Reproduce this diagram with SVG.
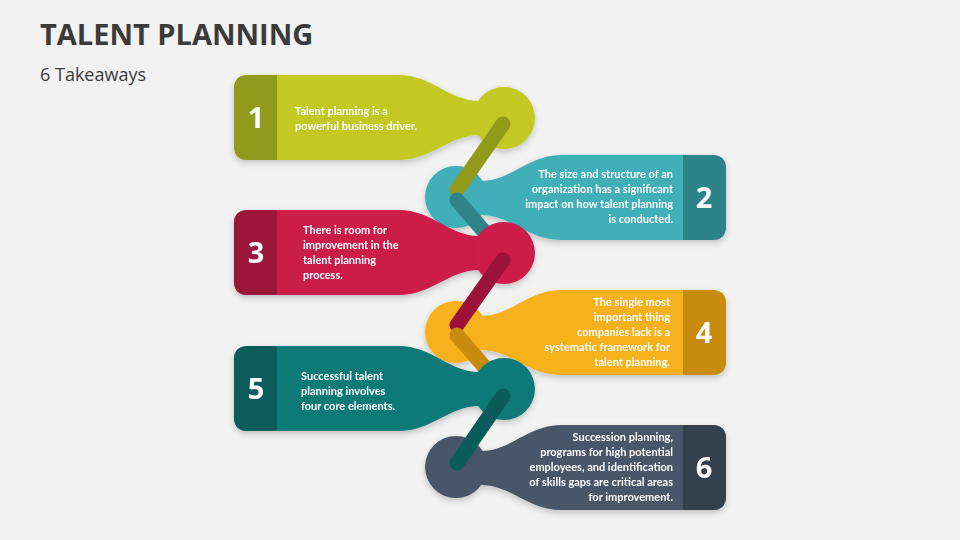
<svg xmlns="http://www.w3.org/2000/svg" width="960" height="540" viewBox="0 0 960 540">
<style>
.t{font-family:Lato,"Open Sans",sans-serif;font-weight:bold;font-size:11px;fill:#fff}
.r{text-anchor:end}
.n{font-family:"Open Sans","Liberation Sans",sans-serif;font-weight:bold;font-size:29px;fill:#fff;text-anchor:middle}
.rod{stroke-width:15;stroke-linecap:round;fill:none}
</style>
<defs>
<filter id="sh" x="-10%" y="-10%" width="120%" height="130%"><feDropShadow dx="0" dy="3" stdDeviation="3" flood-color="#000" flood-opacity="0.2"/></filter>
<path id="L" d="M248 0H398C433 0 448 26 480 26L480 60C448 60 433 85 398 85H248Q234 85 234 71V14Q234 0 248 0Z"/>
<path id="R" d="M712 0H562C527 0 512 26 480 26L480 60C512 60 527 85 562 85H712Q726 85 726 71V14Q726 0 712 0Z"/>
</defs>
<rect width="960" height="540" fill="#f2f2f2"/>
<text x="40" y="45" font-family="'Open Sans','Liberation Sans',sans-serif" font-weight="bold" font-size="29" fill="#3b3b3b">TALENT PLANNING</text>
<text x="40" y="81" font-family="'Open Sans','Liberation Sans',sans-serif" font-size="18" fill="#3b3b3b">6 Takeaways</text>

<g id="node2" filter="url(#sh)" transform="translate(0,155)">
<use href="#R" fill="#3fafb8"/><circle cx="456" cy="42" r="31" fill="#3fafb8"/>
<path d="M683 0H712Q726 0 726 14V71Q726 85 712 85H683Z" fill="#2f8389"/>
<text class="n" x="704" y="53">2</text>
<text class="t r" x="673" y="23">The size and structure of an</text>
<text class="t r" x="673" y="38">organization has a significant</text>
<text class="t r" x="673" y="53">impact on how talent planning</text>
<text class="t r" x="673" y="68">is conducted.</text>
</g>
<g id="node1" filter="url(#sh)" transform="translate(0,75)">
<use href="#L" fill="#c3c923"/><circle cx="504" cy="43" r="31" fill="#c3c923"/>
<path d="M277 0H248Q234 0 234 14V71Q234 85 248 85H277Z" fill="#929a1c"/>
<text class="n" x="256" y="53">1</text>
<text class="t" x="295" y="40">Talent planning is a</text>
<text class="t" x="295" y="55">powerful business driver.</text>
</g>
<g id="c12"><line class="rod" x1="503" y1="124" x2="457" y2="190" stroke="#929a1c"/>
<line class="rod" x1="457" y1="200" x2="500" y2="250" stroke="#2f8389"/></g>
<g id="node4" filter="url(#sh)" transform="translate(0,290)">
<use href="#R" fill="#f6b11a"/><circle cx="456" cy="42" r="31" fill="#f6b11a"/>
<path d="M683 0H712Q726 0 726 14V71Q726 85 712 85H683Z" fill="#c88b0e"/>
<text class="n" x="704" y="53">4</text>
<text class="t r" x="670" y="16">The single most</text>
<text class="t r" x="670" y="31">important thing</text>
<text class="t r" x="670" y="46">companies lack is a</text>
<text class="t r" x="670" y="61">systematic framework for</text>
<text class="t r" x="670" y="76">talent planning.</text>
</g>
<g id="node3" filter="url(#sh)" transform="translate(0,210)">
<use href="#L" fill="#cc1a4a"/><circle cx="504" cy="43" r="31" fill="#cc1a4a"/>
<path d="M277 0H248Q234 0 234 14V71Q234 85 248 85H277Z" fill="#9b1338"/>
<text class="n" x="256" y="53">3</text>
<text class="t" x="303" y="24">There is room for</text>
<text class="t" x="303" y="39">improvement in the</text>
<text class="t" x="303" y="54">talent planning</text>
<text class="t" x="303" y="69">process.</text>
</g>
<g id="c34"><line class="rod" x1="503" y1="260" x2="457" y2="325" stroke="#9b1338"/>
<line class="rod" x1="457" y1="335" x2="500" y2="385" stroke="#c88b0e"/></g>
<g id="node6" filter="url(#sh)" transform="translate(0,425)">
<use href="#R" fill="#4a5567"/><circle cx="456" cy="42" r="31" fill="#4a5567"/>
<path d="M683 0H712Q726 0 726 14V71Q726 85 712 85H683Z" fill="#363f4e"/>
<text class="n" x="704" y="53">6</text>
<text class="t r" x="673" y="16">Succession planning,</text>
<text class="t r" x="673" y="31">programs for high potential</text>
<text class="t r" x="673" y="46">employees, and identification</text>
<text class="t r" x="673" y="61">of skills gaps are critical areas</text>
<text class="t r" x="673" y="76">for improvement.</text>
</g>
<g id="node5" filter="url(#sh)" transform="translate(0,346)">
<use href="#L" fill="#0f7a78"/><circle cx="504" cy="43" r="31" fill="#0f7a78"/>
<path d="M277 0H248Q234 0 234 14V71Q234 85 248 85H277Z" fill="#0a5c5b"/>
<text class="n" x="256" y="53">5</text>
<text class="t" x="301" y="34">Successful talent</text>
<text class="t" x="301" y="49">planning involves</text>
<text class="t" x="301" y="64">four core elements.</text>
</g>
<g id="connectors">
<line class="rod" x1="503" y1="396" x2="457" y2="463" stroke="#0a5c5b"/>
</g>
</svg>
